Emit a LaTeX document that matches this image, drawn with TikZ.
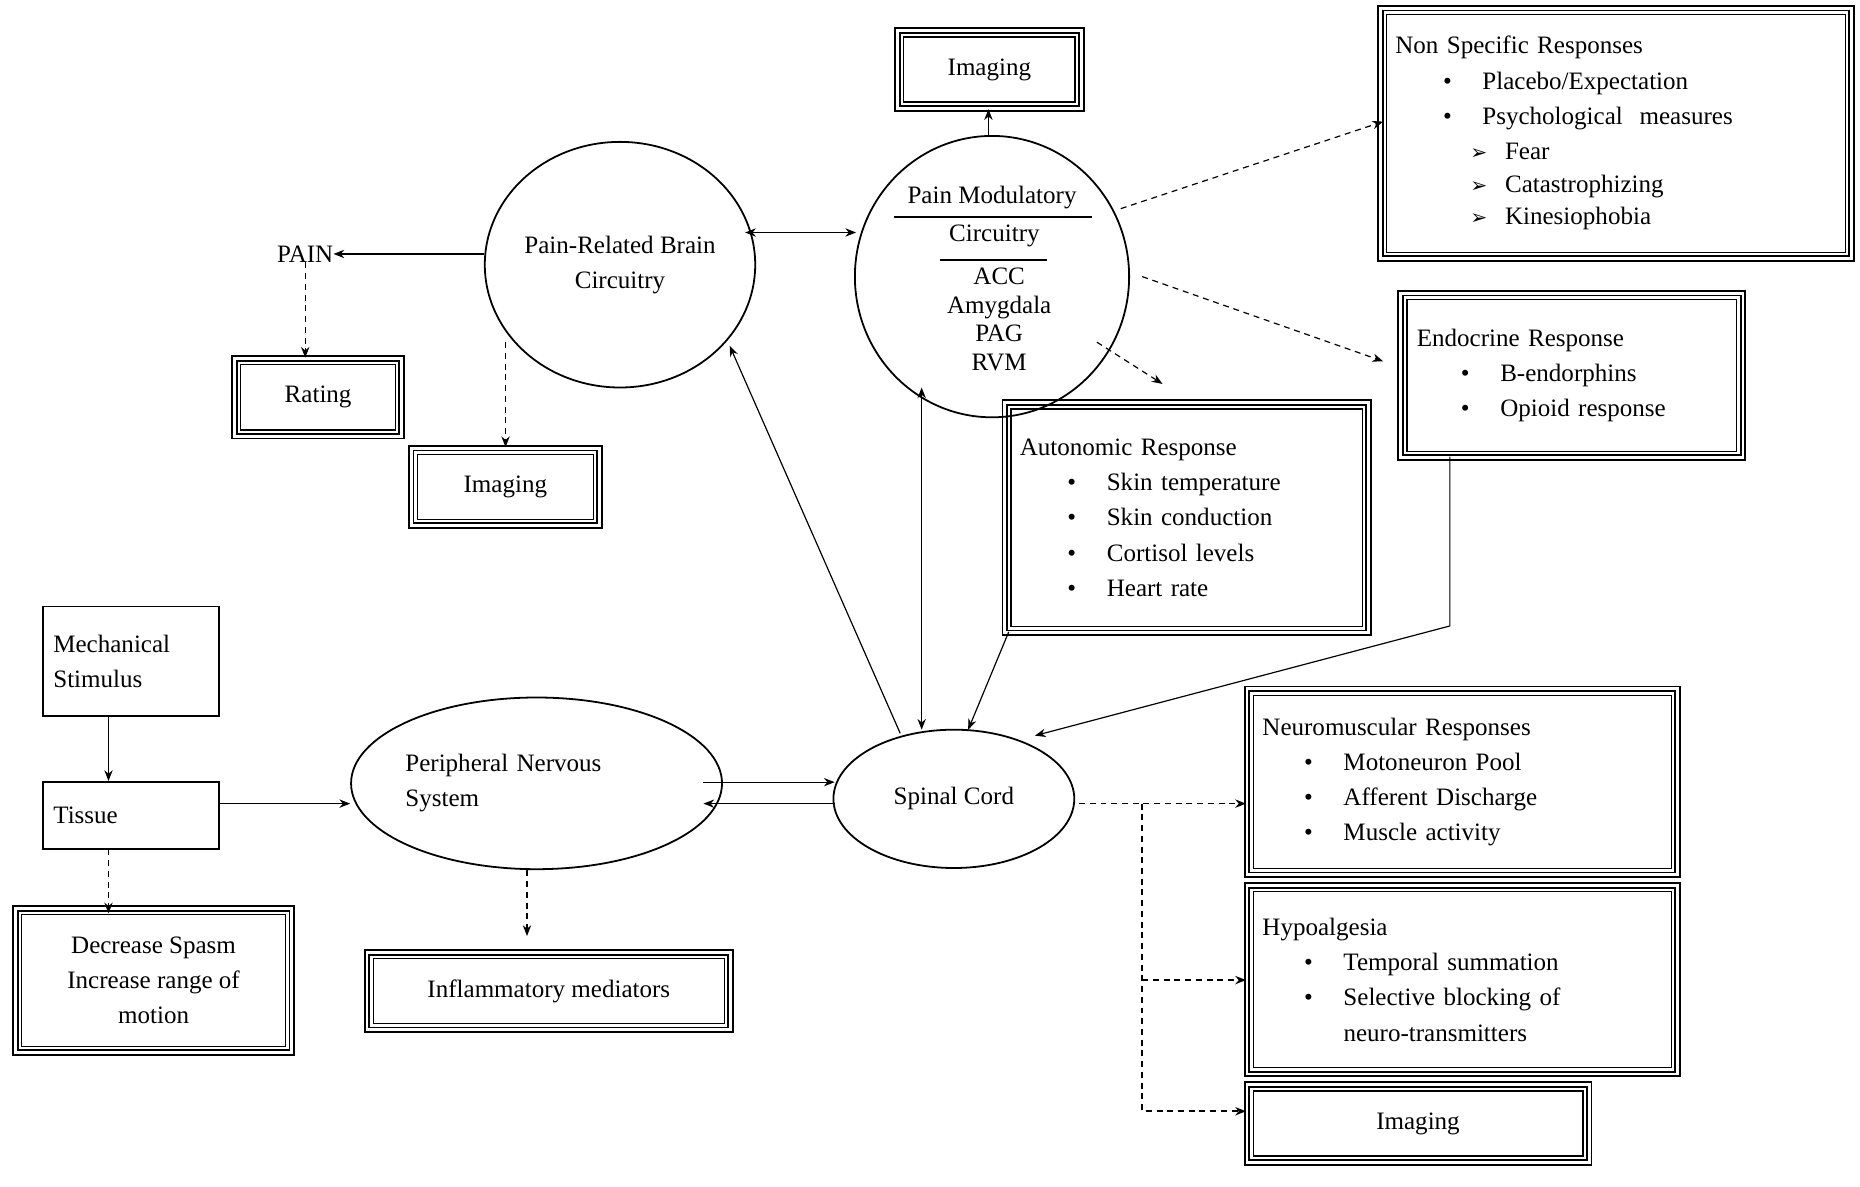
\documentclass[tikz,border=0pt]{standalone}
\usepackage{fontspec}
\setmainfont{Liberation Serif}
\newfontfamily\djv{DejaVu Sans}
\usetikzlibrary{shapes.geometric,arrows.meta}
\begin{document}
\begin{tikzpicture}[x=1pt,y=-1pt,font=\fontsize{21}{29.5}\selectfont,
 every node/.style={inner sep=0pt},
 arr/.style={-{Stealth[length=9pt,width=7pt]},line width=1pt},
 darr/.style={arr,dash pattern=on 5pt off 4pt},
 ell/.style={draw,ellipse,line width=1.5pt},
 sbox/.style={draw,line width=1.5pt,anchor=north west},
 dbox/.style={draw,anchor=north west,line width=1.6pt,double,double distance=2.4pt,
   append after command={\pgfextra{\draw[line width=1pt] ([shift={(6pt,-6pt)}]\tikzlastnode.north west) rectangle ([shift={(-6pt,6pt)}]\tikzlastnode.south east);}}},
 bl/.style={anchor=west}]
\useasboundingbox[fill=white] (0,0) rectangle (1560,995);
\def\bul#1#2{\hspace*{#1pt}\makebox[33pt][l]{•}#2}
\def\arw#1#2{\hspace*{#1pt}\makebox[29pt][l]{\djv\fontsize{17}{20}\selectfont ➢}#2}
% boxes
\node[dbox,minimum width=154pt,minimum height=65pt] (img1) at (752,25) {Imaging};
\node[dbox,minimum width=395pt,minimum height=210pt,text width=370pt,align=left] (ns) at (1157,6)
 {Non Specific Responses\\ \bul{40}{Placebo/Expectation}\\ \bul{40}{Psychological\ \ measures}\\ \arw{63}{Fear}\\[-2pt] \arw{63}{Catastrophizing}\\[-2pt] \arw{63}{Kinesiophobia}};
\node[dbox,minimum width=140pt,minimum height=65pt] (rat) at (196,300) {Rating};
\node[dbox,minimum width=158pt,minimum height=65pt] (img2) at (344,375) {Imaging};
\node[dbox,minimum width=287pt,minimum height=138pt,text width=260pt,align=left] (endo) at (1174,245)
 {Endocrine Response\\ \bul{37}{B-endorphins}\\ \bul{37}{Opioid response}};
\node[dbox,minimum width=305pt,minimum height=193pt,text width=280pt,align=left] (auto) at (842,337)
 {Autonomic Response\\ \bul{40}{Skin temperature}\\ \bul{40}{Skin conduction}\\ \bul{40}{Cortisol levels}\\ \bul{40}{Heart rate}};
\node[sbox,minimum width=148pt,minimum height=92pt,text width=130pt,align=left] (mech) at (35,508) {Mechanical\\Stimulus};
\node[sbox,minimum width=148pt,minimum height=56pt,text width=130pt,align=left] (tis) at (35,655) {Tissue};
\node[dbox,minimum width=232pt,minimum height=121pt,align=center] (dec) at (12,761) {Decrease Spasm\\Increase range of\\motion};
\node[dbox,minimum width=305pt,minimum height=65pt] (infl) at (307,798) {Inflammatory mediators};
\node[dbox,minimum width=361pt,minimum height=156pt,text width=335pt,align=left] (neuro) at (1045,577)
 {Neuromuscular Responses\\ \bul{35}{Motoneuron Pool}\\ \bul{35}{Afferent Discharge}\\ \bul{35}{Muscle activity}};
\node[dbox,minimum width=361pt,minimum height=158pt,text width=335pt,align=left] (hypo) at (1045,742)
 {Hypoalgesia\\ \bul{35}{Temporal summation}\\ \bul{35}{Selective blocking of}\\ \hspace*{68pt}neuro-transmitters};
\node[dbox,minimum width=287pt,minimum height=65pt] (img3) at (1045,909) {Imaging};
% ellipses
\node[ell,minimum width=226pt,minimum height=206pt,align=center] (prb) at (520,222) {Pain-Related Brain\\Circuitry};
\node[ell,minimum width=230pt,minimum height=236pt] (pm) at (832,232) {};
\node (pmt) at (832,166) {Pain Modulatory};
\draw[line width=1.2pt] (750,182) -- (916,182);
\node (pmt2) at (834,198) {Circuitry};
\draw[line width=1.2pt] (788,218) -- (878,218);
\node[align=center,font=\fontsize{21}{24}\selectfont] (pml) at (838,268) {ACC\\Amygdala\\PAG\\RVM};
\node[ell,minimum width=274pt,minimum height=144pt,text width=220pt,align=left] (pns) at (450,657) {Peripheral Nervous\\System};
\node[ell,minimum width=202pt,minimum height=116pt] (sc) at (800,670) {Spinal Cord};
\node (pain) at (256,213) {PAIN};
% connectors
\draw[arr] (prb.west|-pain) -- (pain.east);
\draw[darr] (pain.south) -- (rat.north-|pain);
\draw[darr] (424,287) -- (img2.north-|424,0);
\draw[arr,{Stealth[length=9pt,width=7pt]}-{Stealth[length=9pt,width=7pt]}] (625,195) -- (718,195);
\draw[arr] (pm.north-|829,0) -- (img1.south-|829,0);
\draw[darr] (940,175) -- (1160,102);
\draw[darr] (958,232) -- (1160,303);
\coordinate (pmend) at (975,322);
\draw[darr] (920,287) -- (pmend);
\draw[arr] (755,615) -- (612,290);
\draw[arr,{Stealth[length=9pt,width=7pt]}-{Stealth[length=9pt,width=7pt]}] (773,612) -- (773,325);
\draw[arr] (846,530) -- (812,612);
\draw[arr] (1216,383) -- (1216,525) -- (868,617);
\draw[arr] (mech.south-|91,0) -- (tis.north-|91,0);
\draw[arr] (183,674) -- (pns.west|-0,674);
\draw[darr] (tis.south-|91,0) -- (91,766);
\draw[arr] (590,656) -- (700,656);
\draw[arr] (700,674) -- (590,674);
\draw[darr] (442,730) -- (442,785);
\draw[darr,line width=1.3pt] (905,674) -- (neuro.west|-0,674);
\draw[darr,line width=1.3pt] (958,674) -- (958,932) -- (img3.west|-0,932);
\draw[darr] (958,822) -- (hypo.west|-0,822);
\end{tikzpicture}
\end{document}
